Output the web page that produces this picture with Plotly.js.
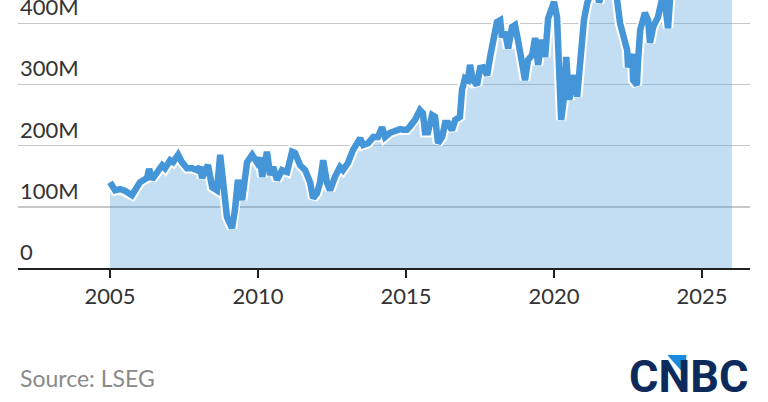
<!DOCTYPE html>
<html>
<head>
<meta charset="utf-8">
<script src="https://cdn.plot.ly/plotly-3.0.1.min.js"></script>
<style>html,body{margin:0;padding:0;background:#fff;}#chart{width:768px;height:402px;}</style>
</head>
<body>
<div id="chart"></div>
<script>
// Decimal years
const years = [2005.00,2005.17,2005.34,2005.51,2005.74,2005.84,2006.01,2006.25,2006.32,2006.42,2006.59,2006.76,2006.86,2007.03,2007.13,2007.30,2007.43,2007.60,2007.77,2007.94,2008.04,2008.11,2008.21,2008.31,2008.45,2008.61,2008.72,2008.82,2008.95,2009.12,2009.22,2009.32,2009.46,2009.63,2009.80,2009.97,2010.07,2010.14,2010.30,2010.41,2010.51,2010.64,2010.81,2010.98,2011.15,2011.25,2011.42,2011.59,2011.76,2011.86,2011.99,2012.09,2012.20,2012.33,2012.43,2012.60,2012.77,2012.87,2013.04,2013.21,2013.34,2013.45,2013.55,2013.72,2013.89,2014.05,2014.19,2014.29,2014.46,2014.63,2014.80,2014.90,2015.03,2015.14,2015.30,2015.47,2015.57,2015.64,2015.74,2015.88,2015.98,2016.08,2016.22,2016.32,2016.42,2016.55,2016.66,2016.82,2016.89,2016.99,2017.09,2017.16,2017.26,2017.40,2017.50,2017.60,2017.74,2017.84,2017.94,2018.07,2018.18,2018.24,2018.34,2018.45,2018.58,2018.68,2018.78,2018.92,2019.02,2019.12,2019.26,2019.36,2019.46,2019.59,2019.70,2019.80,2019.93,2020.00,2020.10,2020.17,2020.24,2020.34,2020.41,2020.51,2020.61,2020.68,2020.78,2020.91,2021.01,2021.12,2021.22,2021.39,2021.52,2021.66,2021.82,2021.99,2022.13,2022.23,2022.33,2022.47,2022.50,2022.64,2022.67,2022.80,2022.84,2022.91,2023.07,2023.18,2023.24,2023.35,2023.51,2023.65,2023.75,2023.85,2023.92,2024.09,2024.43,2024.76,2025.10,2025.44,2025.78,2026.01];
// Values in millions
const values = [140,127,129,126,119,127,140,147,162,145,157,168,163,176,173,185,173,163,163,160,165,147,160,168,132,127,185,132,83,65,95,144,111,173,185,172,180,149,190,152,165,144,160,157,190,188,168,160,140,114,122,139,176,139,127,149,165,160,172,193,204,212,201,204,214,214,230,214,221,225,227,226,226,232,242,258,253,222,222,250,247,204,214,237,237,225,242,247,291,310,307,332,307,299,327,328,315,345,369,402,405,377,386,359,394,397,373,340,307,340,348,376,332,373,345,408,430,435,410,300,242,280,345,275,300,315,280,368,405,433,450,470,434,465,480,460,438,400,377,356,328,350,307,299,340,389,417,405,368,394,410,440,433,392,440,470,500,520,510,540,560,580];
const yTickVals = [0,100,200,300,400];
const yTickText = ['0','100M','200M','300M','400M'];
const xTickVals = [2005,2010,2015,2020,2025];
const xTickText = ['2005','2010','2015','2020','2025'];

const traces = [
  {x: years, y: values, type:'scatter', mode:'lines', fill:'tozeroy',
   fillcolor:'rgba(74,152,216,0.33)', line:{color:'#ffffff', width:10.5}, hoverinfo:'skip'},
  {x: years, y: values, type:'scatter', mode:'lines',
   line:{color:'#4596d8', width:6.5, shape:'linear'}, hoverinfo:'skip'}
];

const yLabelAnn = yTickVals.map((v, i) => ({
  xref:'paper', yref:'y', x:0, y:v, xanchor:'left', yanchor:'bottom', yshift:1,
  text:yTickText[i], showarrow:false, font:{size:22, color:'#333333'}
}));

const layout = {
  width:768, height:402,
  margin:{l:18, r:18, t:0, b:134, pad:0},
  paper_bgcolor:'#ffffff', plot_bgcolor:'#ffffff',
  showlegend:false,
  font:{family:'Lato, "Open Sans", sans-serif', color:'#333333'},
  xaxis:{range:[2001.89,2026.62], tickvals:xTickVals, ticktext:xTickText,
    showgrid:false, zeroline:false, showline:true, linecolor:'#222222', linewidth:2,
    ticks:'outside', ticklen:8, tickwidth:2, tickcolor:'#222222',
    tickfont:{size:22, color:'#333333'}, fixedrange:true},
  yaxis:{range:[0,438], tickvals:yTickVals, showticklabels:false,
    showgrid:true, gridcolor:'#c8c8c8', gridwidth:1.5, zeroline:false, showline:false,
    ticks:'', fixedrange:true},
  annotations: yLabelAnn.concat([
    {xref:'paper', yref:'paper', x:0, y:-0.41, xanchor:'left', yanchor:'middle',
     text:'Source: LSEG', showarrow:false, font:{size:23, color:'#8a8a8a'}},
    {xref:'paper', yref:'paper', x:1, y:-0.405, xanchor:'right', yanchor:'middle',
     text:'<b>CNBC</b>', showarrow:false, font:{size:45, color:'#0c2a5c', family:'Roboto, sans-serif'}}
  ]),
  shapes:[
    {type:'path', xref:'paper', yref:'paper', layer:'above',
     path:'M 0.887 -0.325 L 0.913 -0.325 L 0.913 -0.405 Z',
     fillcolor:'#1a8ae0', line:{width:0}}
  ]
};
Plotly.newPlot('chart', traces, layout, {displayModeBar:false, staticPlot:true});
</script>
</body>
</html>
